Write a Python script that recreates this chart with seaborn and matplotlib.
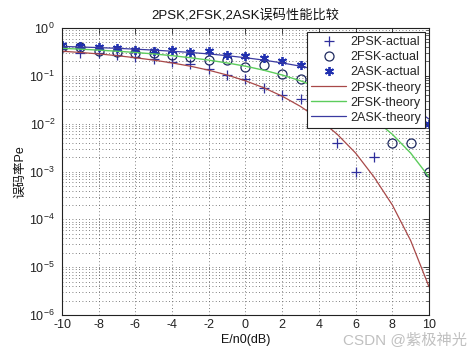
import numpy as np
import pandas as pd
import matplotlib
matplotlib.use("Agg")
import matplotlib.pyplot as plt
import seaborn as sns
from matplotlib.ticker import LogLocator, NullFormatter

# ---- data ----
snr_db = [-10, -9, -8, -7, -6, -5, -4, -3, -2, -1, 0, 1, 2, 3, 4, 5, 6, 7, 8, 9, 10]

psk_actual = [0.36, 0.30, 0.296, 0.272, 0.251, 0.221, 0.197, 0.177, 0.137, 0.104, 0.085,
              0.055, 0.040, 0.033, 0.012, 0.004, 0.001, 0.002, np.nan, np.nan, np.nan]
fsk_actual = [0.406, 0.395, 0.335, 0.319, 0.304, 0.296, 0.272, 0.247, 0.214, 0.210, 0.151,
              0.168, 0.109, 0.085, 0.055, 0.037, 0.023, 0.012, 0.004, 0.004, 0.001]
ask_actual = [0.44, 0.42, 0.395, 0.376, 0.345, 0.335, 0.340, 0.32, 0.33, 0.272, 0.26,
              0.232, 0.207, 0.168, 0.13, 0.10, 0.078, 0.056, 0.037, 0.023, 0.010]

psk_theory = [0.327, 0.308, 0.287, 0.264, 0.239, 0.213, 0.186, 0.159, 0.131, 0.104, 0.0786,
              0.0563, 0.0375, 0.0229, 0.0125, 0.0060, 0.00243, 0.00077, 0.00020, 0.000036, 0.0000039]
fsk_theory = [0.376, 0.361, 0.345, 0.327, 0.308, 0.287, 0.264, 0.239, 0.213, 0.186, 0.159,
              0.131, 0.104, 0.0786, 0.0563, 0.0375, 0.0229, 0.0125, 0.0060, 0.00243, 0.00077]
ask_theory = [0.412, 0.401, 0.389, 0.376, 0.361, 0.345, 0.327, 0.308, 0.287, 0.264, 0.239,
              0.213, 0.186, 0.159, 0.131, 0.104, 0.0786, 0.0563, 0.0375, 0.0229, 0.0125]

x_ticks = [-10, -8, -6, -4, -2, 0, 2, 4, 6, 8, 10]

title_text = "2PSK,2FSK,2ASK误码性能比较"
xlabel_text = "E/n0(dB)"
ylabel_text = "误码率Pe"
watermark_text = "CSDN @紫极神光"

# ---- style ----
sns.set_style("white")
plt.rcParams["font.family"] = ["Liberation Sans", "Noto Sans CJK SC", "DejaVu Sans"]
plt.rcParams["mathtext.fontset"] = "custom"
plt.rcParams["mathtext.rm"] = "Liberation Sans"
plt.rcParams["mathtext.it"] = "Liberation Sans"
plt.rcParams["axes.unicode_minus"] = False

fig = plt.figure(figsize=(4.74, 3.54), dpi=100)
ax = fig.add_axes([62 / 474, 1 - 315 / 354, (429 - 62) / 474, (315 - 28) / 354])

df = pd.DataFrame({
    "snr": snr_db,
    "psk_a": psk_actual, "fsk_a": fsk_actual, "ask_a": ask_actual,
    "psk_t": psk_theory, "fsk_t": fsk_theory, "ask_t": ask_theory,
})

c_plus = "#2f2f9c"
c_circ = "#1f2a60"
c_star = "#2030b0"
sns.lineplot(data=df.dropna(subset=["psk_a"]), x="snr", y="psk_a", ax=ax, linestyle="none",
             marker="+", markersize=7, markeredgewidth=0.9, color=c_plus,
             markeredgecolor=c_plus, label="2PSK-actual")
sns.lineplot(data=df, x="snr", y="fsk_a", ax=ax, linestyle="none",
             marker="o", markersize=6.5, markerfacecolor="none", markeredgewidth=0.9,
             markeredgecolor=c_circ, color=c_circ, label="2FSK-actual")
sns.lineplot(data=df, x="snr", y="ask_a", ax=ax, linestyle="none",
             marker=(6, 2, 0), markersize=6.5, markeredgewidth=1.3, color=c_star,
             markeredgecolor=c_star, label="2ASK-actual")
sns.lineplot(data=df, x="snr", y="psk_t", ax=ax, color="#a84848", linewidth=0.9,
             label="2PSK-theory")
sns.lineplot(data=df, x="snr", y="fsk_t", ax=ax, color="#5ccc5c", linewidth=1.0,
             label="2FSK-theory")
sns.lineplot(data=df, x="snr", y="ask_t", ax=ax, color="#3a3aa0", linewidth=0.9,
             label="2ASK-theory")

ax.set_yscale("log")
ax.set_xlim(-10, 10)
ax.set_ylim(1e-6, 1)
ax.set_xticks(x_ticks)
ax.set_xticklabels([str(v) for v in x_ticks])
ax.yaxis.set_major_locator(LogLocator(base=10, numticks=10))
ax.yaxis.set_minor_locator(LogLocator(base=10, subs=np.arange(2, 10), numticks=20))
ax.yaxis.set_minor_formatter(NullFormatter())

ax.tick_params(axis="both", which="both", direction="in", top=True, right=True,
               labelsize=9, colors="#222222")
ax.tick_params(axis="x", which="major", pad=3)
ax.tick_params(axis="y", which="major", pad=5)
ax.tick_params(axis="both", which="major", length=4, width=0.6)
ax.tick_params(axis="y", which="minor", length=2, width=0.5)

ax.grid(True, which="major", axis="both", linestyle=(0, (1, 3)), linewidth=0.6, color="#555555")
ax.grid(True, which="minor", axis="y", linestyle=(0, (1, 3)), linewidth=0.6, color="#555555")
for s in ax.spines.values():
    s.set_color("#222222")
    s.set_linewidth(0.8)

ax.set_title(title_text, fontsize=9.5, pad=7, color="#111111")
ax.set_xlabel(xlabel_text, fontsize=9, labelpad=2, color="#111111")
ax.set_ylabel(ylabel_text, fontsize=9, labelpad=2, color="#111111")

leg = ax.legend(loc="upper right", fontsize=9, frameon=True, fancybox=False, framealpha=1,
                edgecolor="#222222", borderaxespad=0.3, handlelength=2.8, handletextpad=0.3,
                labelspacing=0.25, borderpad=0.35)
leg.get_frame().set_linewidth(0.8)

fig.text(0.985, 0.04, watermark_text, ha="right", va="center", fontsize=11,
         color="#c0c0c0")

fig.savefig("out.png", dpi=100, facecolor="white")
